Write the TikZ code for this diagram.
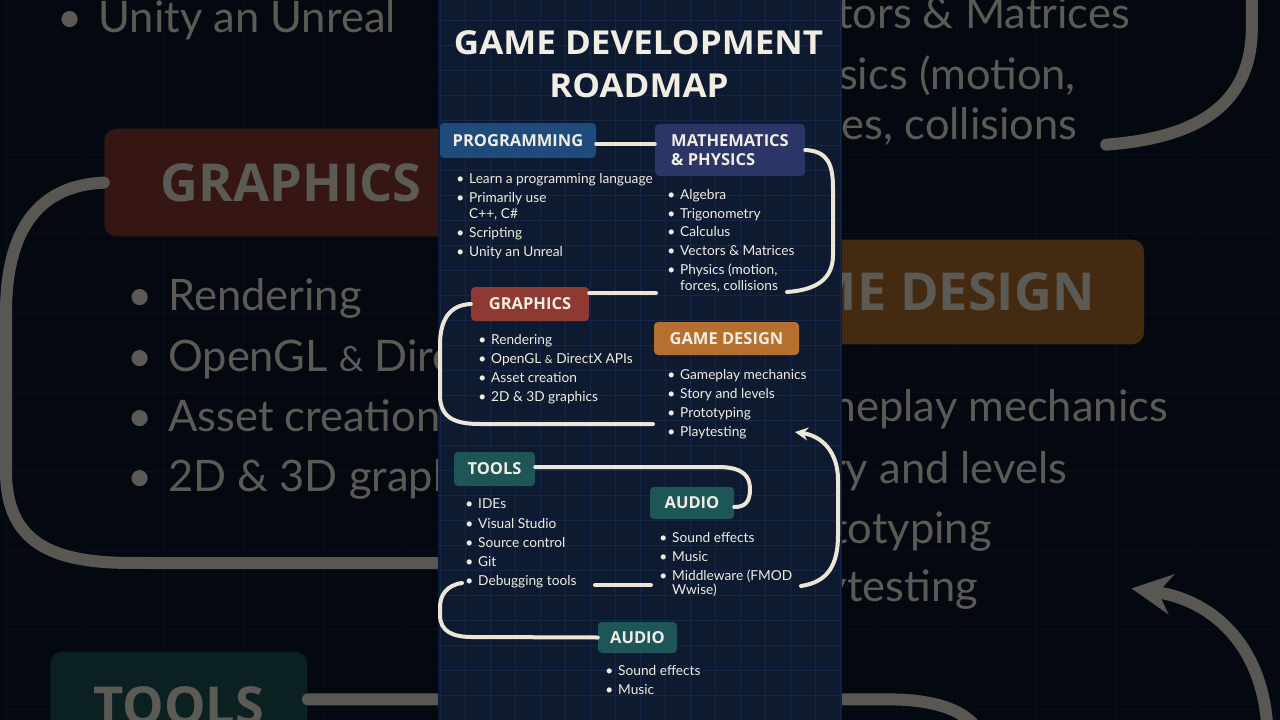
\documentclass[tikz,border=0pt]{standalone}
\usepackage{fontspec}
\setmainfont{Lato}
\newfontfamily\titlefont{Open Sans}
\newfontfamily\titlewide{Open Sans}[FakeStretch=1.06]
\usetikzlibrary{arrows.meta}
\definecolor{panelc}{HTML}{0D1A2F}
\definecolor{gridc}{HTML}{15264A}
\definecolor{textc}{HTML}{F2EDE2}
\definecolor{linec}{HTML}{ECE6D6}
\definecolor{progc}{HTML}{1E4A7C}
\definecolor{mathc}{HTML}{2B3566}
\definecolor{grapc}{HTML}{8E3A32}
\definecolor{desc}{HTML}{B5702F}
\definecolor{toolc}{HTML}{1E5658}
\definecolor{sidec}{HTML}{05080F}
\tikzset{
  hdr/.style={fill=#1, rounded corners=4pt, text=textc, inner sep=0pt,
    font=\titlefont\bfseries\fontsize{16.5}{18.5}\selectfont},
  item/.style={anchor=base west, inner sep=0pt, text=textc,
    font=\fontsize{13.7}{17}\selectfont},
  conn/.style={draw=linec, line width=4pt, line cap=round},
  tip/.style={-{Stealth[length=13pt,width=13pt]}},
  gridl/.style={draw=gridc, line width=0.6pt},
  ttl/.style={anchor=base, inner sep=0pt, text=textc,
    font=\titlewide\bfseries\fontsize{33}{36}\selectfont},
}
\newcommand\bul{\llap{\textbullet\hspace{5pt}}}
\newcommand\smamp{{\fontsize{11}{11}\selectfont\&}}
\newcommand\roadmapbody{%
  \fill[panelc] (438,0) rectangle (842,720);
  \foreach \gx in {440,465,...,840} {\draw[gridl] (\gx,0) -- (\gx,720);}
  \foreach \gy in {20,45,...,720} {\draw[gridl] (438,\gy) -- (842,\gy);}
  % title
  \node[ttl] (t1) at (638.5,54) {GAME DEVELOPMENT};
  \node[ttl] (t2) at (639,97.5) {ROADMAP};
  % headers
  \node[hdr=progc, minimum width=156pt, minimum height=35pt] (prog) at (518,140.5) {PROGRAMMING};
  \node[hdr=mathc, minimum width=150pt, minimum height=52pt, align=left] (math) at (730,150) {MATHEMATICS\\\& PHYSICS};
  \node[hdr=grapc, minimum width=118pt, minimum height=34pt] (graphics) at (530,304) {GRAPHICS};
  \node[hdr=desc, minimum width=145pt, minimum height=33pt] (design) at (726.5,338.5) {GAME DESIGN};
  \node[hdr=toolc, minimum width=81pt, minimum height=34pt] (tools) at (494.5,469) {TOOLS};
  \node[hdr=toolc, minimum width=84pt, minimum height=32pt] (audio1) at (692,503) {AUDIO};
  \node[hdr=toolc, minimum width=79pt, minimum height=31pt] (audio2) at (637.5,637.5) {AUDIO};
  % programming items
  \node[item] (p1) at (469,183.5) {\bul Learn a programming language};
  \node[item] (p2) at (469,202.5) {\bul Primarily use};
  \node[item] (p3) at (469,218.5) {C++, C\#};
  \node[item] (p4) at (469,237.5) {\bul Scripting};
  \node[item] (p5) at (469,256.5) {\bul Unity an Unreal};
  % math items
  \node[item] (m1) at (680,199.5) {\bul Algebra};
  \node[item] (m2) at (680,218.5) {\bul Trigonometry};
  \node[item] (m3) at (680,236.5) {\bul Calculus};
  \node[item] (m4) at (680,255.5) {\bul Vectors \& Matrices};
  \node[item] (m5) at (680,274.5) {\bul Physics (motion,};
  \node[item] (m6) at (680,290.5) {forces, collisions};
  % graphics items
  \node[item] (g1) at (491,344.5) {\bul Rendering};
  \node[item] (g2) at (491,363.5) {\bul OpenGL \smamp{} DirectX APIs};
  \node[item] (g3) at (491,382.5) {\bul Asset creation};
  \node[item] (g4) at (491,401.5) {\bul 2D \& 3D graphics};
  % game design items
  \node[item] (d1) at (680,379.5) {\bul Gameplay mechanics};
  \node[item] (d2) at (680,398.8) {\bul Story and levels};
  \node[item] (d3) at (680,417.8) {\bul Prototyping};
  \node[item] (d4) at (680,436.2) {\bul Playtesting};
  % tools items
  \node[item] (o1) at (478,508.8) {\bul IDEs};
  \node[item] (o2) at (478,528.2) {\bul Visual Studio};
  \node[item] (o3) at (478,547.2) {\bul Source control};
  \node[item] (o4) at (478,566.2) {\bul Git};
  \node[item] (o5) at (478,585.5) {\bul Debugging tools};
  % audio 1 items
  \node[item] (a1) at (672,542.8) {\bul Sound effects};
  \node[item] (a2) at (672,561.5) {\bul Music};
  \node[item] (a3) at (672,580.5) {\bul Middleware (FMOD};
  \node[item] (a4) at (672,594.5) {Wwise)};
  % audio 2 items
  \node[item] (b1) at (618,675.5) {\bul Sound effects};
  \node[item] (b2) at (618,694.5) {\bul Music};
  % free ends of connectors
  \coordinate (pm) at (596,144);
  \coordinate (mf) at (787,292);
  \coordinate (gr) at (656,293);
  \coordinate (gb) at (653,424);
  \coordinate (ms) at (801,586);
  \coordinate (pe) at (795,432);
  \coordinate (tr) at (718,467);
  \coordinate (ae) at (734,507);
  \coordinate (da) at (595,585);
  \coordinate (db) at (651,585);
  \coordinate (ds) at (462,583);
  % connectors
  \draw[conn] (prog.east |- pm) -- (math.west |- pm);
  \draw[conn] (math.east) .. controls (828,151) and (833,165) .. (833,188)
     -- (833,255) .. controls (833,280) and (815,290) .. (mf);
  \draw[conn] (graphics.east |- gr) -- (gr);
  \draw[conn] (graphics.west) .. controls (448,305) and (440,322) .. (440,345)
     -- (440,395) .. controls (440,418) and (455,424) .. (480,424) -- (gb);
  \draw[conn,tip] (ms) .. controls (828,582) and (838,565) .. (838,535)
     -- (838,480) .. controls (838,452) and (822,436) .. (pe);
  \draw[conn] (tools.east |- tr) -- (tr) .. controls (744,467) and (750,477) .. (750,489)
     .. controls (750,502) and (745,507) .. (audio1.east |- ae);
  \draw[conn] (da) -- (db);
  \draw[conn] (ds) .. controls (447,585) and (440,595) .. (440,607)
     -- (440,615) .. controls (440,631) and (452,637) .. (472,637) -- (audio2.west);
}
\begin{document}
\begin{tikzpicture}[x=1pt,y=-1pt]
\useasboundingbox (0,0) rectangle (1280,720);
\fill[sidec] (0,0) rectangle (1280,720);
\begin{scope}
  \clip (0,0) rectangle (1280,720);
  \begin{scope}[scale=3.17, shift={(-438.1,-246.4)}, transform shape,
      name prefix=bg-, conn/.append style={line width=12pt},
      tip/.style={-{Stealth[length=40pt,width=40pt]}},
      hdr/.append style={rounded corners=12pt}]
    \roadmapbody
  \end{scope}
\end{scope}
\fill[black, opacity=0.62] (0,0) rectangle (1280,720);
\roadmapbody
\end{tikzpicture}
\end{document}
